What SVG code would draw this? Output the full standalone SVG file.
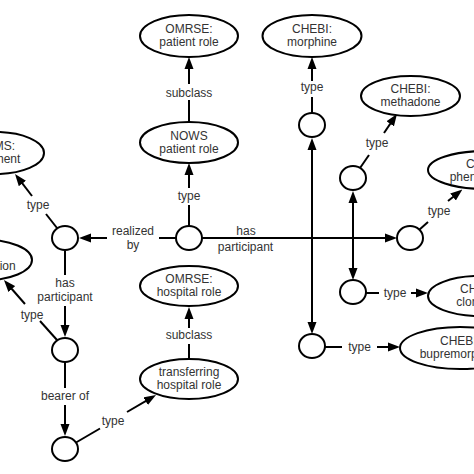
<svg xmlns="http://www.w3.org/2000/svg" width="474" height="474" viewBox="0 0 474 474">
<defs>
<marker id="arr" markerUnits="userSpaceOnUse" markerWidth="12" markerHeight="10" refX="6" refY="4.5" orient="auto-start-reverse" viewBox="0 0 12 9">
<path d="M0,0 L12,4.5 L0,9 Z" fill="#000"/>
</marker>
<style>
.cls{fill:#fff;stroke:#000;stroke-width:2}
.inst{fill:#fff;stroke:#000;stroke-width:2}
.t{font-family:"Liberation Sans",Arial,sans-serif;font-size:12px;fill:#333;text-anchor:middle}
.c line{stroke:#000;stroke-width:2;fill:none}
</style>
</defs>
<rect width="474" height="474" fill="#fff"/>

<g id="connectors" class="c">
<line x1="189" y1="122" x2="189" y2="100"/>
<line x1="189" y1="84" x2="189" y2="63" marker-end="url(#arr)"/>
<line x1="189" y1="226" x2="189" y2="205"/>
<line x1="189" y1="188" x2="189" y2="169" marker-end="url(#arr)"/>
<line x1="176" y1="238" x2="159" y2="238"/>
<line x1="107" y1="238" x2="85" y2="238" marker-end="url(#arr)"/>
<line x1="202" y1="238" x2="391" y2="238" marker-end="url(#arr)"/>
<line x1="312" y1="144" x2="312" y2="328" marker-start="url(#arr)" marker-end="url(#arr)"/>
<line x1="353" y1="197" x2="353" y2="274" marker-start="url(#arr)" marker-end="url(#arr)"/>
<line x1="312" y1="113" x2="312" y2="97"/>
<line x1="312" y1="81" x2="312" y2="63" marker-end="url(#arr)"/>
<line x1="360" y1="168" x2="369" y2="155"/>
<line x1="384" y1="133" x2="393.6" y2="118.9" marker-end="url(#arr)"/>
<line x1="419" y1="230" x2="428" y2="222"/>
<line x1="448" y1="201" x2="457.7" y2="193.2" marker-end="url(#arr)"/>
<line x1="366" y1="293" x2="379" y2="293"/>
<line x1="411" y1="293" x2="422" y2="293" marker-end="url(#arr)"/>
<line x1="325" y1="347" x2="342" y2="347"/>
<line x1="377" y1="347" x2="394" y2="347" marker-end="url(#arr)"/>
<line x1="57" y1="228" x2="46" y2="214"/>
<line x1="32" y1="196" x2="18.7" y2="178.7" marker-end="url(#arr)"/>
<line x1="65" y1="251" x2="65" y2="275"/>
<line x1="65" y1="306" x2="65" y2="331" marker-end="url(#arr)"/>
<line x1="57" y1="340" x2="40" y2="321"/>
<line x1="25" y1="304" x2="7.9" y2="284.5" marker-end="url(#arr)"/>
<line x1="65" y1="362" x2="65" y2="388"/>
<line x1="65" y1="405" x2="65" y2="430" marker-end="url(#arr)"/>
<line x1="76" y1="442.5" x2="100" y2="428.5"/>
<line x1="127" y1="412" x2="150.8" y2="398.1" marker-end="url(#arr)"/>
<line x1="189" y1="359" x2="189" y2="344"/>
<line x1="189" y1="328" x2="189" y2="313" marker-end="url(#arr)"/>

<text class="t" x="189" y="96.5">subclass</text>
<text class="t" x="189" y="200">type</text>
<text class="t" x="133" y="235">realized</text>
<text class="t" x="133" y="249">by</text>
<text class="t" x="246" y="235">has</text>
<text class="t" x="245.5" y="250.5">participant</text>
<text class="t" x="312" y="90.5">type</text>
<text class="t" x="377" y="147">type</text>
<text class="t" x="439" y="215">type</text>
<text class="t" x="395" y="296.5">type</text>
<text class="t" x="359.5" y="350.5">type</text>
<text class="t" x="38" y="209">type</text>
<text class="t" x="65" y="287">has</text>
<text class="t" x="65" y="301">participant</text>
<text class="t" x="32" y="319">type</text>
<text class="t" x="65" y="400">bearer of</text>
<text class="t" x="113" y="425">type</text>
<text class="t" x="189" y="339">subclass</text>
</g>

<g id="omrse_patient_role"><ellipse class="cls" cx="189" cy="36" rx="49" ry="21"/><text class="t" x="189" y="33">OMRSE:</text><text class="t" x="189" y="46">patient role</text></g>
<g id="nows_patient_role"><ellipse class="cls" cx="189" cy="142.5" rx="49" ry="20.5"/><text class="t" x="189" y="140">NOWS</text><text class="t" x="189" y="152.5">patient role</text></g>
<g id="chebi_morphine"><ellipse class="cls" cx="312" cy="36" rx="49.5" ry="21"/><text class="t" x="312" y="33">CHEBI:</text><text class="t" x="312" y="46">morphine</text></g>
<g id="chebi_methadone"><ellipse class="cls" cx="410.5" cy="96" rx="49.5" ry="20"/><text class="t" x="410.5" y="93">CHEBI:</text><text class="t" x="410.5" y="106">methadone</text></g>
<g id="chebi_phenobarbital"><ellipse class="cls" cx="486" cy="170" rx="58" ry="19"/><text class="t" x="486" y="167.5">CHEBI:</text><text class="t" x="486" y="180.5">phenobarbital</text></g>
<g id="chebi_clonidine"><ellipse class="cls" cx="480" cy="296" rx="52" ry="20"/><text class="t" x="480" y="293">CHEBI:</text><text class="t" x="480" y="306">clonidine</text></g>
<g id="chebi_buprenorphine"><ellipse class="cls" cx="460" cy="348" rx="60" ry="21"/><text class="t" x="460" y="345">CHEBI:</text><text class="t" x="460" y="358">bupremorphine</text></g>
<g id="ogms_treatment"><ellipse class="cls" cx="-5" cy="153" rx="49" ry="21"/><text class="t" x="-5" y="150">OGMS:</text><text class="t" x="-5" y="163">treatment</text></g>
<g id="obi_organization"><ellipse class="cls" cx="-17" cy="260" rx="49" ry="20.5"/><text class="t" x="-17" y="257">OBI:</text><text class="t" x="-17" y="270">organization</text></g>
<g id="omrse_hospital_role"><ellipse class="cls" cx="189" cy="286" rx="49" ry="20"/><text class="t" x="189" y="283">OMRSE:</text><text class="t" x="189" y="296">hospital role</text></g>
<g id="transferring_hospital_role"><ellipse class="cls" cx="189" cy="379" rx="49" ry="20"/><text class="t" x="189" y="376">transferring</text><text class="t" x="189" y="389">hospital role</text></g>

<g id="n_process_treatment"><ellipse class="inst" cx="65" cy="238" rx="13" ry="12"/></g>
<g id="n_patient_role"><ellipse class="inst" cx="189" cy="238" rx="13" ry="12"/></g>
<g id="n_hospital"><ellipse class="inst" cx="65" cy="350" rx="13" ry="12"/></g>
<g id="n_transferring_role"><ellipse class="inst" cx="65" cy="449" rx="13" ry="12"/></g>
<g id="n_morphine"><ellipse class="inst" cx="312" cy="125" rx="13" ry="12"/></g>
<g id="n_methadone"><ellipse class="inst" cx="353" cy="178" rx="13" ry="12"/></g>
<g id="n_phenobarbital"><ellipse class="inst" cx="410" cy="238" rx="13" ry="12"/></g>
<g id="n_clonidine"><ellipse class="inst" cx="353" cy="292" rx="13" ry="12"/></g>
<g id="n_buprenorphine"><ellipse class="inst" cx="312" cy="346" rx="13" ry="12"/></g>
</svg>
